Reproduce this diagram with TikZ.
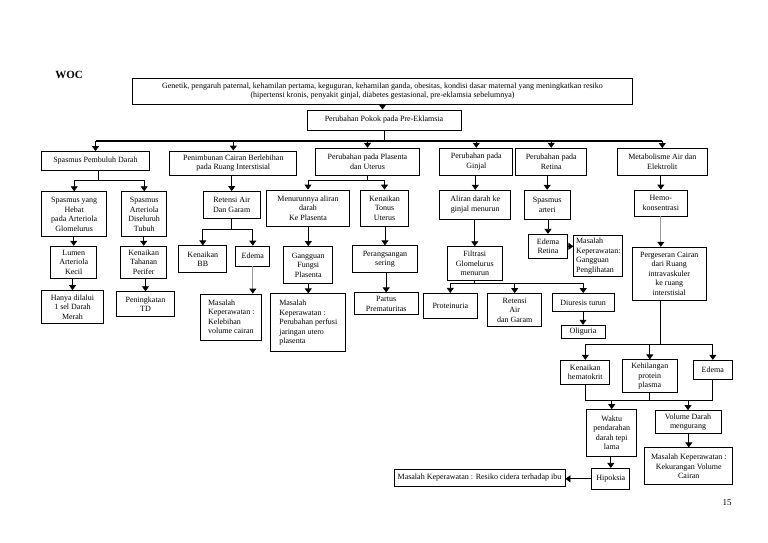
\documentclass[tikz,border=0pt]{standalone}
\usepackage{fontspec}
\setmainfont{Liberation Serif}
\usepackage{tikz}
\usetikzlibrary{arrows.meta, calc}
\definecolor{LineGray}{rgb}{0.6,0.6,0.6}
\tikzset{
  box/.style={draw=black, line width=0.8pt, align=center, inner sep=1pt,
    font={\fontsize{8}{9.5}\selectfont}},
  mkbox/.style={box, align=left},
  arr/.style={-{Triangle[width=7pt,length=5pt]}, line width=0.8pt},
  grayarr/.style={-{Triangle[width=7pt,length=5pt,color=black]}, draw=LineGray, line width=0.8pt},
  link/.style={line width=0.8pt},
}

\begin{document}
\begin{tikzpicture}[x=1pt,y=-1pt]

    \useasboundingbox (0,0) rectangle (768,543);

    % title and page number
    \node[font={\bfseries\fontsize{11}{13}\selectfont}] (judul) at (69,75) {WOC};
    \node[font={\fontsize{9}{11}\selectfont}] (hal) at (727,503) {15};

    % risk factors
    \node[box, minimum width=500, minimum height=26] (gen) at (382.5,91)
        {Genetik, pengaruh paternal, kehamilan pertama, keguguran, kehamilan ganda, obesitas, kondisi dasar maternal yang meningkatkan resiko\\
         (hipertensi kronis, penyakit ginjal, diabetes gestasional, pre-eklamsia sebelumnya)};
    \node[box, minimum width=154, minimum height=20] (pokok) at (384,120) {Perubahan Pokok pada Pre-Eklamsia};

    % first level
    \node[box, minimum width=108, minimum height=19] (spasme) at (95.5,161) {Spasmus Pembuluh Darah};
    \node[box, minimum width=127, minimum height=24] (timbun) at (233.3,163) {Penimbunan Cairan Berlebihan\\pada Ruang Interstisial};
    \node[box, minimum width=104, minimum height=27] (plasenta) at (367.5,161.7) {Perubahan pada Plasenta\\dan Uterus};
    \node[box, minimum width=73, minimum height=27] (ginjal) at (476.3,161.7) {Perubahan pada\\Ginjal};
    \node[box, minimum width=71, minimum height=27] (retina) at (551.2,161.7) {Perubahan pada\\Retina};
    \node[box, minimum width=90, minimum height=27] (metab) at (662.3,162) {Metabolisme Air dan\\Elektrolit};

    % second level
    \node[box, minimum width=65, minimum height=45] (hebat) at (74.2,214.2) {Spasmus yang\\Hebat\\pada Arteriola\\Glomelurus};
    \node[box, minimum width=45, minimum height=45] (arteri) at (144.2,214.2) {Spasmus\\Arteriola\\Diseluruh\\Tubuh};
    \node[box, minimum width=57, minimum height=27] (retensi) at (231.7,205) {Retensi Air\\Dan Garam};
    \node[box, minimum width=83, minimum height=36] (aliranpl) at (308,208) {Menurunnya aliran\\darah\\Ke Plasenta};
    \node[box, minimum width=48, minimum height=36] (tonus) at (384.5,208) {Kenaikan\\Tonus\\Uterus};
    \node[box, minimum width=71, minimum height=29] (aliran) at (475.3,204.7) {Aliran darah ke\\ginjal menurun};
    \node[box, minimum width=46, minimum height=29] (spasart) at (547.2,204.7) {Spasmus\\arteri};
    \node[box, minimum width=53, minimum height=26] (hemo) at (660.8,203) {Hemo-\\konsentrasi};

    % third level
    \node[box, minimum width=46, minimum height=32] (lumen) at (73.7,262.2) {Lumen\\Arteriola\\Kecil};
    \node[box, minimum width=46, minimum height=32] (tahanan) at (143.7,262.2) {Kenaikan\\Tahanan\\Perifer};
    \node[box, minimum width=48, minimum height=27] (bb) at (202.8,259.3) {Kenaikan\\BB};
    \node[box, minimum width=34, minimum height=20] (edema) at (252.8,256) {Edema};
    \node[box, minimum width=49, minimum height=37] (fungsi) at (308.3,265) {Gangguan\\Fungsi\\Plasenta};
    \node[box, minimum width=65, minimum height=27] (rangsang) at (385,259.3) {Perangsangan\\sering};
    \node[box, minimum width=55, minimum height=34] (filtrasi) at (474.8,263.7) {Filtrasi\\Glomelurus\\menurun};
    \node[box, minimum width=39, minimum height=24] (edret) at (548,246.3) {Edema\\Retina};
    \node[mkbox, minimum width=49, minimum height=41] (mkpeng) at (598.3,256.2) {Masalah\\Keperawatan:\\Gangguan\\Penglihatan};
    \node[box, minimum width=74, minimum height=53] (geser) at (669.2,273.7) {Pergeseran Cairan\\dari Ruang\\intravaskuler\\ke ruang\\interstisial};

    % fourth level
    \node[box, minimum width=62, minimum height=33] (hanya) at (72.5,307) {Hanya dilalui\\1 sel Darah\\Merah};
    \node[box, minimum width=58, minimum height=25] (td) at (145.5,304.2) {Peningkatan\\TD};
    \node[mkbox, minimum width=61, minimum height=46] (mkcair) at (231.3,317) {Masalah\\Keperawatan :\\Kelebihan\\volume cairan};
    \node[mkbox, minimum width=75, minimum height=58] (mkperf) at (308.3,322.8) {Masalah\\Keperawatan :\\Perubahan perfusi\\jaringan utero\\plasenta};
    \node[box, minimum width=64, minimum height=22] (partus) at (386.2,303.8) {Partus\\Prematuritas};
    \node[box, minimum width=54, minimum height=25] (protein) at (450.3,305.8) {Proteinuria};
    \node[box, minimum width=54, minimum height=33] (retensii) at (514.7,310) {Retensi\\Air\\dan Garam};
    \node[box, minimum width=62, minimum height=18] (diuresis) at (583.2,302.5) {Diuresis turun};
    \node[box, minimum width=44, minimum height=13] (oligo) at (583,331.7) {Oliguria};

    % lower right
    \node[box, minimum width=49, minimum height=24] (hemat) at (585.3,372.2) {Kenaikan\\hematokrit};
    \node[box, minimum width=55, minimum height=33] (protpl) at (649.8,376.3) {Kehilangan\\protein\\plasma};
    \node[box, minimum width=39, minimum height=19] (edemaii) at (712.8,369.7) {Edema};
    \node[box, minimum width=50, minimum height=47] (waktu) at (611.7,433) {Waktu\\pendarahan\\darah tepi\\lama};
    \node[box, minimum width=66, minimum height=23] (voldarah) at (688,422) {Volume Darah\\mengurang};
    \node[box, minimum width=38, minimum height=21] (hipoksia) at (610.8,478.8) {Hipoksia};
    \node[box, minimum width=88, minimum height=37] (mkkurang) at (688.8,466.3) {Masalah Keperawatan :\\Kekurangan Volume\\Cairan};
    \node[box, minimum width=171, minimum height=17] (mkcidera) at (479.5,477.7) {Masalah Keperawatan : Resiko cidera terhadap ibu};

    % main branch
    \draw[arr] (gen.south) -- (gen.south |- pokok.north);
    \coordinate (b0) at (384,141);
    \draw[link] (pokok.south) -- (b0);
    \draw[line width=1.2pt] (spasme.north |- b0) -- (metab.north |- b0);
    \draw[arr] (spasme.north |- b0) -- (spasme.north);
    \draw[arr] (timbun.north |- b0) -- (timbun.north);
    \draw[arr] (plasenta.north |- b0) -- (plasenta.north);
    \draw[arr] (ginjal.north |- b0) -- (ginjal.north);
    \draw[arr] (retina.north |- b0) -- (retina.north);
    \draw[arr] (metab.north |- b0) -- (metab.north);

    % spasmus
    \coordinate (b1) at (98,180);
    \draw[link] (spasme.south -| b1) -- (b1);
    \draw[link] (hebat.north |- b1) -- (arteri.north |- b1);
    \draw[arr] (hebat.north |- b1) -- (hebat.north);
    \draw[arr] (arteri.north |- b1) -- (arteri.north);
    \draw[arr] (hebat.south -| lumen.north) -- (lumen.north);
    \draw[arr] (arteri.south -| tahanan.north) -- (tahanan.north);
    \draw[arr] (lumen.south -| hanya.north) -- (hanya.north);
    \draw[arr] (tahanan.south -| td.north) -- (td.north);

    % penimbunan cairan
    \draw[arr] (timbun.south -| retensi.north) -- (retensi.north);
    \coordinate (b2) at (231.7,229.3);
    \draw[link] (retensi.south) -- (b2);
    \draw[link] (bb.north |- b2) -- (edema.north |- b2);
    \draw[arr] (bb.north |- b2) -- (bb.north);
    \draw[arr] (edema.north |- b2) -- (edema.north);
    \draw[grayarr] (edema.south) -- (edema.south |- mkcair.north);

    % plasenta dan uterus
    \coordinate (b3) at (367,180);
    \draw[link] (plasenta.south -| b3) -- (b3);
    \draw[link] (aliranpl.north |- b3) -- (tonus.north |- b3);
    \draw[arr] (aliranpl.north |- b3) -- (aliranpl.north);
    \draw[arr] (tonus.north |- b3) -- (tonus.north);
    \draw[arr] (aliranpl.south -| fungsi.north) -- (fungsi.north);
    \draw[arr] (fungsi.south -| mkperf.north) -- (mkperf.north);
    \draw[arr] (tonus.south -| rangsang.north) -- (rangsang.north);
    \draw[arr] (rangsang.south -| partus.north) -- (partus.north);

    % ginjal
    \draw[arr] (ginjal.south -| aliran.north) -- (aliran.north);
    \draw[arr] (aliran.south -| filtrasi.north) -- (filtrasi.north);
    \coordinate (b4) at (474.8,283.3);
    \draw[link] (filtrasi.south) -- (b4);
    \draw[link] (protein.north |- b4) -- (diuresis.north |- b4);
    \draw[arr] (protein.north |- b4) -- (protein.north);
    \draw[arr] (retensii.north |- b4) -- (retensii.north);
    \draw[arr] (diuresis.north |- b4) -- (diuresis.north);
    \draw[arr] (diuresis.south -| oligo.north) -- (oligo.north);

    % retina
    \draw[arr] (retina.south -| spasart.north) -- (spasart.north);
    \draw[arr] (spasart.south -| edret.north) -- (edret.north);
    \draw[arr] (edret.east) -- (edret.east -| mkpeng.west);

    % metabolisme air dan elektrolit
    \draw[arr] (metab.south -| hemo.north) -- (hemo.north);
    \draw[grayarr] (hemo.south) -- (hemo.south |- geser.north);
    \coordinate (b5) at (660.8,344.3);
    \draw[link] (hemo.south |- geser.south) -- (b5);
    \draw[link] (hemat.north |- b5) -- (edemaii.north |- b5);
    \draw[arr] (hemat.north |- b5) -- (hemat.north);
    \draw[arr] (protpl.north |- b5) -- (protpl.north);
    \draw[arr] (edemaii.north |- b5) -- (edemaii.north);

    % join to lower boxes
    \coordinate (b6) at (648,400);
    \draw[link] (hemat.south) -- (hemat.south |- b6);
    \draw[link] (protpl.south) -- (protpl.south |- b6);
    \draw[link] (edemaii.south) -- (edemaii.south |- b6);
    \draw[link] (hemat.south |- b6) -- (edemaii.south |- b6);
    \draw[arr] (waktu.north |- b6) -- (waktu.north);
    \draw[arr] (voldarah.north |- b6) -- (voldarah.north);
    \draw[arr] (waktu.south -| hipoksia.north) -- (hipoksia.north);
    \draw[arr] (voldarah.south -| mkkurang.north) -- (mkkurang.north);
    \draw[arr] (hipoksia.west) -- (hipoksia.west -| mkcidera.east);

\end{tikzpicture}
\end{document}
